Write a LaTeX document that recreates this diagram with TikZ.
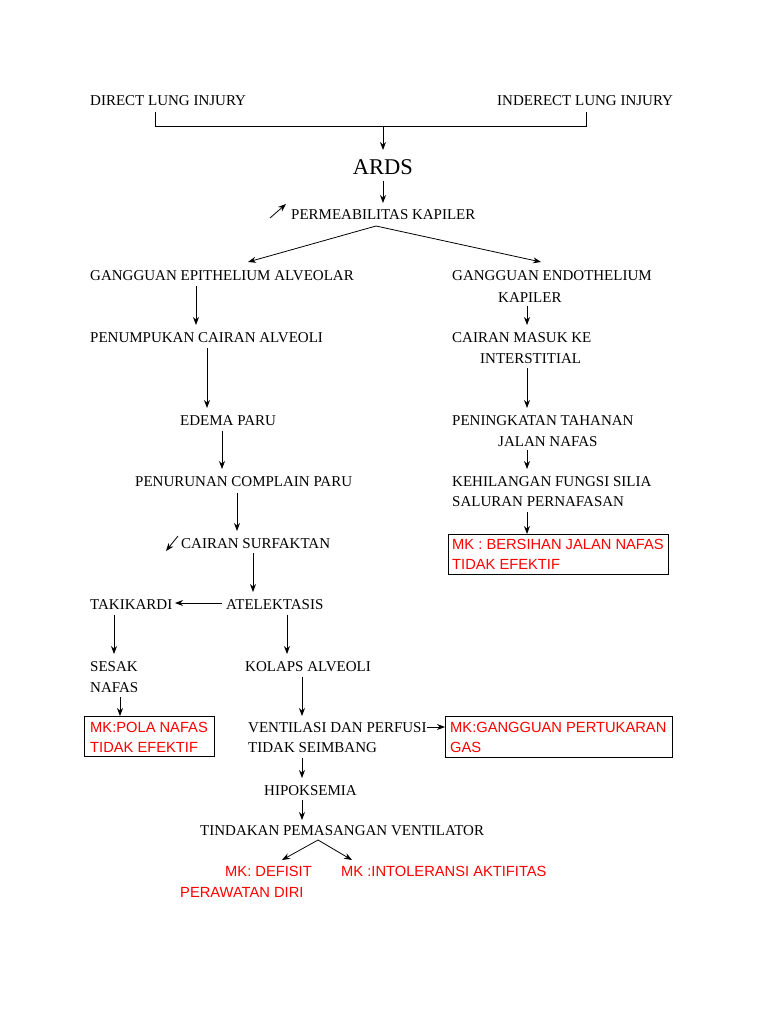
\documentclass[tikz,border=0pt]{standalone}
\usepackage{fontspec}
\setmainfont{Liberation Serif}
\setsansfont{Liberation Sans}
\usetikzlibrary{arrows.meta}
\begin{document}
\begin{tikzpicture}[x=1pt,y=-1pt,
  t/.style={anchor=base west,inner sep=0pt,font=\fontsize{15}{17}\selectfont},
  r/.style={anchor=base west,inner sep=0pt,text=red,font=\sffamily\fontsize{14.7}{16}\selectfont},
  ar/.style={-{Stealth[length=8pt,width=6pt]},line width=0.8pt},
  box/.style={draw,line width=0.8pt}]
\useasboundingbox (0,0) rectangle (768,1024);
\node[t] (dl) at (90,106) {DIRECT LUNG INJURY};
\node[t] (il) at (497,106) {INDERECT LUNG INJURY};
\draw[line width=0.8pt] (155,112) -- (155,126) -- (586,126) -- (586,112);
\coordinate (bm) at (383,126);
\node[anchor=base,inner sep=0pt,font=\fontsize{22.5}{26}\selectfont] (ards) at (383,175) {ARDS};
\draw[ar] (bm) -- (383,150);
\draw[ar] (383,181) -- (383,203);
\draw[ar] (270,218) -- (286,204);
\node[t] (perm) at (291,219) {PERMEABILITAS KAPILER};
\coordinate (pb) at (376,226);
\draw[ar] (pb) -- (248,262);
\draw[ar] (pb) -- (541,262);
\node[t] (gea) at (90,280) {GANGGUAN EPITHELIUM ALVEOLAR};
\node[t] (gek) at (452,280) {GANGGUAN ENDOTHELIUM};
\node[t] at (498,302) {KAPILER};
\draw[ar] (196,286) -- (196,325);
\node[t] (pca) at (90,342) {PENUMPUKAN CAIRAN ALVEOLI};
\draw[ar] (527,306) -- (527,325);
\node[t] (cmk) at (452,342) {CAIRAN MASUK KE};
\node[t] at (480,363) {INTERSTITIAL};
\draw[ar] (207,348) -- (207,408);
\node[t] (ep) at (180,425) {EDEMA PARU};
\draw[ar] (527,368) -- (527,408);
\node[t] (pt) at (452,425) {PENINGKATAN TAHANAN};
\node[t] at (498,446) {JALAN NAFAS};
\draw[ar] (222,431) -- (222,469);
\node[t] (pcp) at (135,486) {PENURUNAN COMPLAIN PARU};
\draw[ar] (527,450) -- (527,469);
\node[t] (kfs) at (452,486) {KEHILANGAN FUNGSI SILIA};
\node[t] at (452,506) {SALURAN PERNAFASAN};
\draw[ar] (237,493) -- (237,531);
\draw[ar] (178,536) -- (166,551);
\node[t] (cs) at (181,548) {CAIRAN SURFAKTAN};
\draw[ar] (527,512) -- (527,534);
\draw[box] (448,534) rectangle (668,574);
\node[r] (mk1) at (452,549) {MK : BERSIHAN JALAN NAFAS};
\node[r] at (452,569) {TIDAK EFEKTIF};
\draw[ar] (253,553) -- (253,592);
\node[t] (at) at (226,609) {ATELEKTASIS};
\node[t] (tk) at (90,609) {TAKIKARDI};
\draw[ar] (222,603) -- (175,603);
\draw[ar] (114,615) -- (114,654);
\node[t] (sn) at (90,671) {SESAK};
\node[t] at (90,692) {NAFAS};
\draw[ar] (287,615) -- (287,654);
\node[t] (ka) at (245,671) {KOLAPS ALVEOLI};
\draw[ar] (120,697) -- (120,716);
\draw[box] (84,716) rectangle (214,756);
\node[r] (mk2) at (90,732) {MK:POLA NAFAS};
\node[r] at (90,752) {TIDAK EFEKTIF};
\draw[ar] (302,677) -- (302,716);
\node[t] (vp) at (248,732) {VENTILASI DAN PERFUSI};
\node[t] at (248,752) {TIDAK SEIMBANG};
\draw[ar] (427,727) -- (445,727);
\draw[box] (445,716) rectangle (672,757);
\node[r] (mk3) at (450,732) {MK:GANGGUAN PERTUKARAN};
\node[r] at (450,752) {GAS};
\draw[ar] (302,758) -- (302,778);
\node[t] (hk) at (264,795) {HIPOKSEMIA};
\draw[ar] (302,800) -- (302,820);
\node[t] (tpv) at (200,835) {TINDAKAN PEMASANGAN VENTILATOR};
\coordinate (tb) at (318,840);
\draw[ar] (tb) -- (282,860);
\draw[ar] (tb) -- (352,860);
\node[r] (mk4) at (225,876) {MK: DEFISIT};
\node[r] at (180,897) {PERAWATAN DIRI};
\node[r] (mk5) at (341,876) {MK :INTOLERANSI AKTIFITAS};
\end{tikzpicture}
\end{document}
